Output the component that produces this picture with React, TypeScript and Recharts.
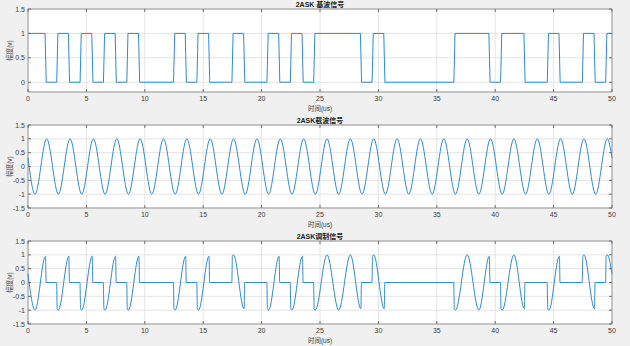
import React from 'react';
import {
  LineChart,
  Line,
  XAxis,
  YAxis,
  CartesianGrid,
  ReferenceArea,
} from 'recharts';

// ── Data ──────────────────────────────────────────────────────────────────────

// one bit per microsecond, bit k centred on t = k
const bits = [
  1, 1, 0, 1, 0, 1, 0, 1, 0, 1,
  0, 0, 0, 1, 0, 1, 0, 0, 1, 0,
  0, 1, 0, 1, 0, 1, 1, 1, 1, 0,
  1, 0, 0, 0, 0, 0, 0, 1, 1, 1,
  0, 1, 1, 0, 0, 1, 0, 0, 1, 0,
  1,
];

// carrier: start, every peak / trough, end
const carrierTimes = [
  0,
  0.6, 1.6, 2.6, 3.6, 4.6, 5.6, 6.6, 7.6, 8.6, 9.6,
  10.6, 11.6, 12.6, 13.6, 14.6, 15.6, 16.6, 17.6, 18.6, 19.6,
  20.6, 21.6, 22.6, 23.6, 24.6, 25.6, 26.6, 27.6, 28.6, 29.6,
  30.6, 31.6, 32.6, 33.6, 34.6, 35.6, 36.6, 37.6, 38.6, 39.6,
  40.6, 41.6, 42.6, 43.6, 44.6, 45.6, 46.6, 47.6, 48.6, 49.6,
  50,
];
const carrierValues = [
  0.31,
  -1, 1, -1, 1, -1, 1, -1, 1, -1, 1,
  -1, 1, -1, 1, -1, 1, -1, 1, -1, 1,
  -1, 1, -1, 1, -1, 1, -1, 1, -1, 1,
  -1, 1, -1, 1, -1, 1, -1, 1, -1, 1,
  -1, 1, -1, 1, -1, 1, -1, 1, -1, 1,
  0.31,
];

// modulated signal: [time, value] at edges and extremes
const modulatedPoints: [number, number][] = [
  [0, 0.31], [0.6, -1], [1.5, 0.95], [1.55, 0],
  [2.45, 0], [2.5, -0.95], [2.6, -1], [3.5, 0.95], [3.55, 0],
  [4.45, 0], [4.5, -0.95], [4.6, -1], [5.5, 0.95], [5.55, 0],
  [6.45, 0], [6.5, -0.95], [6.6, -1], [7.5, 0.95], [7.55, 0],
  [8.45, 0], [8.5, -0.95], [8.6, -1], [9.5, 0.95], [9.55, 0],
  [12.45, 0], [12.5, -0.95], [12.6, -1], [13.5, 0.95], [13.55, 0],
  [14.45, 0], [14.5, -0.95], [14.6, -1], [15.5, 0.95], [15.55, 0],
  [17.45, 0], [17.5, 0.95], [17.6, 1], [18.5, -0.95], [18.55, 0],
  [20.45, 0], [20.5, -0.95], [20.6, -1], [21.5, 0.95], [21.55, 0],
  [22.45, 0], [22.5, -0.95], [22.6, -1], [23.5, 0.95], [23.55, 0],
  [24.45, 0], [24.5, -0.95], [24.6, -1], [25.6, 1], [26.6, -1], [27.6, 1], [28.5, -0.95], [28.55, 0],
  [29.45, 0], [29.5, 0.95], [29.6, 1], [30.5, -0.95], [30.55, 0],
  [36.45, 0], [36.5, -0.95], [36.6, -1], [37.6, 1], [38.6, -1], [39.5, 0.95], [39.55, 0],
  [40.45, 0], [40.5, -0.95], [40.6, -1], [41.6, 1], [42.5, -0.95], [42.55, 0],
  [44.45, 0], [44.5, -0.95], [44.6, -1], [45.5, 0.95], [45.55, 0],
  [47.45, 0], [47.5, 0.95], [47.6, 1], [48.5, -0.95], [48.55, 0],
  [49.45, 0], [49.5, 0.95], [49.6, 1], [50, 0.31],
];

const xTicks = [0, 5, 10, 15, 20, 25, 30, 35, 40, 45, 50];
const baseTicks = [0, 0.5, 1, 1.5];
const waveTicks = [-1.5, -1, -0.5, 0, 0.5, 1, 1.5];

// ── Tables for the charts ─────────────────────────────────────────────────────

const basebandData: { t: number; v: number }[] = [{ t: 0, v: bits[0] }];
for (let k = 1; k < bits.length; k++) {
  if (bits[k] !== bits[k - 1]) {
    basebandData.push({ t: k - 0.54, v: bits[k - 1] });
    basebandData.push({ t: k - 0.44, v: bits[k] });
  }
}
basebandData.push({ t: 50, v: bits[bits.length - 1] });

const carrierData = carrierTimes.map((t, i) => ({ t, v: carrierValues[i] }));
const modulatedData = modulatedPoints.map(([t, v]) => ({ t, v }));

// ── Styles ────────────────────────────────────────────────────────────────────

const FIG_W = 630;
const SUB_H = 116;
const PLOT_W = 584;
const PLOT_H = 83;
const LINE_COLOUR = '#2f8ad0';
const TEXT_COLOUR = '#404040';
const FONT = '"Liberation Sans", Arial, "Noto Sans CJK SC", sans-serif';

const XTick = (props: any) => {
  const { x, y, payload } = props;
  return (
    <g>
      <line x1={x} x2={x} y1={y} y2={y - 3} stroke="#6e6e6e" />
      <line x1={x} x2={x} y1={y - PLOT_H} y2={y - PLOT_H + 3} stroke="#6e6e6e" />
      <text x={x} y={y + 9} textAnchor="middle" fontSize={7} fill={TEXT_COLOUR} fontFamily={FONT}>
        {payload.value}
      </text>
    </g>
  );
};

const YTick = (props: any) => {
  const { x, y, payload } = props;
  return (
    <g>
      <line x1={x} x2={x + 3} y1={y} y2={y} stroke="#6e6e6e" />
      <line x1={x + PLOT_W} x2={x + PLOT_W - 3} y1={y} y2={y} stroke="#6e6e6e" />
      <text x={x - 3} y={y + 2.5} textAnchor="end" fontSize={7} fill={TEXT_COLOUR} fontFamily={FONT}>
        {payload.value}
      </text>
    </g>
  );
};

interface SubPlotProps {
  top: number;
  title: string;
  data: { t: number; v: number }[];
  yDomain: [number, number];
  yTicks: number[];
  curve: 'linear' | 'monotone';
}

function SubPlot({ top, title, data, yDomain, yTicks, curve }: SubPlotProps) {
  return (
    <div style={{ position: 'absolute', left: 0, top, width: FIG_W, height: SUB_H }}>
      <LineChart
        width={FIG_W}
        height={SUB_H}
        data={data}
        margin={{ top: 9, right: 18, left: 0, bottom: 0 }}
        style={{ position: 'absolute', left: 0, top: 0 }}
      >
        <CartesianGrid stroke="#e4e4e4" fill="#ffffff" fillOpacity={1} />
        <XAxis
          dataKey="t"
          type="number"
          domain={[0, 50]}
          ticks={xTicks}
          interval={0}
          height={24}
          tickSize={0}
          tickMargin={0}
          axisLine={false}
          tick={<XTick />}
          label={{
            value: '时间(us)',
            position: 'insideBottom',
            offset: 5,
            fontSize: 6.5,
            fill: TEXT_COLOUR,
            fontFamily: FONT,
          }}
        />
        <YAxis
          type="number"
          domain={yDomain}
          ticks={yTicks}
          interval={0}
          width={28}
          tickSize={0}
          tickMargin={0}
          axisLine={false}
          allowDataOverflow
          tick={<YTick />}
          label={{
            value: '幅度(v)',
            angle: -90,
            position: 'insideLeft',
            offset: 10,
            fontSize: 6.5,
            fill: TEXT_COLOUR,
            fontFamily: FONT,
            style: { textAnchor: 'middle' },
          }}
        />
        <ReferenceArea
          x1={0}
          x2={50}
          y1={yDomain[0]}
          y2={yDomain[1]}
          fill="none"
          stroke="#9a9a9a"
          strokeWidth={1}
          fillOpacity={0}
        />
        <Line
          dataKey="v"
          type={curve}
          stroke={LINE_COLOUR}
          strokeWidth={1}
          dot={false}
          activeDot={false}
          isAnimationActive={false}
        />
      </LineChart>
      <div
        style={{
          position: 'absolute',
          left: 28,
          top: 0,
          width: PLOT_W,
          textAlign: 'center',
          fontSize: 7,
          lineHeight: '9px',
          fontWeight: 'bold',
          color: '#222',
          fontFamily: FONT,
        }}
      >
        {title}
      </div>
    </div>
  );
}

export default function App() {
  return (
    <div
      style={{
        position: 'absolute',
        left: 0,
        top: 0,
        width: FIG_W,
        height: 346,
        overflow: 'hidden',
        background: '#f0f0f0',
      }}
    >
      <SubPlot top={0} title="2ASK 基波信号" data={basebandData} yDomain={[-0.2, 1.5]} yTicks={baseTicks} curve="linear" />
      <SubPlot top={116} title="2ASK载波信号" data={carrierData} yDomain={[-1.5, 1.5]} yTicks={waveTicks} curve="monotone" />
      <SubPlot top={232} title="2ASK调制信号" data={modulatedData} yDomain={[-1.5, 1.5]} yTicks={waveTicks} curve="monotone" />
    </div>
  );
}
